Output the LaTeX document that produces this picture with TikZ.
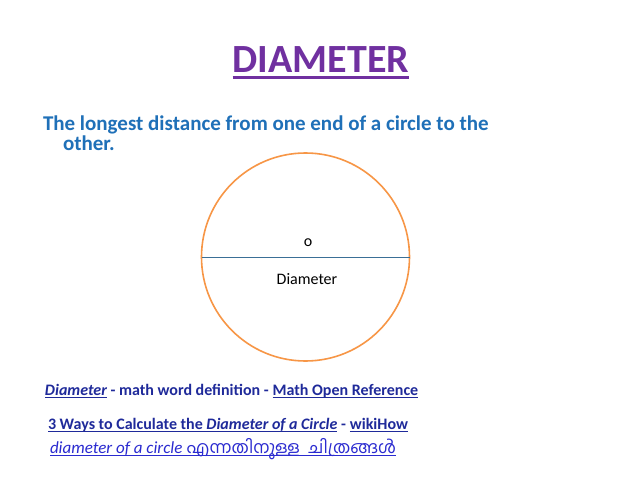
\documentclass[tikz,border=0pt]{standalone}
\usepackage{fontspec}
\setmainfont{Carlito}
\newfontfamily\mlfont[Script=Malayalam]{Hind Kochi}
\definecolor{titlepurple}{HTML}{7030A0}
\definecolor{bodyblue}{HTML}{1F70B8}
\definecolor{circorange}{HTML}{F79646}
\definecolor{diamblue}{HTML}{3A6F96}
\definecolor{linknavy}{HTML}{1F2A9A}
\definecolor{linkblue}{HTML}{2A2AD0}
\tikzset{
  txt/.style={inner sep=0pt, outer sep=0pt, anchor=base west},
  linkbold/.style={txt, text=linknavy, font=\fontsize{16}{19}\selectfont\bfseries},
  linkplain/.style={txt, text=linkblue, font=\fontsize{17}{20}\selectfont},
  ulnavy/.style={draw=linknavy, line width=0.9pt},
  ulblue/.style={draw=linkblue, line width=0.9pt},
}
\newcommand{\undl}[2]{\draw[#1] ([yshift=-2.4pt]#2.base west) -- ([yshift=-2.4pt]#2.base east);}
\begin{document}
\begin{tikzpicture}[x=1pt,y=-1pt]
\useasboundingbox[fill=white] (0,0) rectangle (638,479);
% title
\node[inner sep=0pt, anchor=base, text=titlepurple, font=\fontsize{40}{46}\selectfont\bfseries] (title) at (321,72) {DIAMETER};
\draw[titlepurple, line width=2.5pt] ([yshift=-5.5pt]title.base west) -- ([yshift=-5.5pt]title.base east);
% definition
\node[txt, text=bodyblue, font=\fontsize{21}{24}\selectfont\bfseries] (def1) at (43,130) {The longest distance from one end of a circle to the};
\node[txt, text=bodyblue, font=\fontsize{21}{24}\selectfont\bfseries] (def2) at (63,150) {other.};
% circle
\coordinate (c) at (305.5,257);
\draw[circorange, line width=1.6pt] (c) circle[radius=104];
\coordinate (dl) at (201.5,257);
\coordinate (dr) at (409.5,257);
\draw[diamblue, line width=0.8pt] (dl) -- (dr);
\node[inner sep=0pt, font=\fontsize{16}{18}\selectfont] (o) at (308,243) {o};
\node[inner sep=0pt, font=\fontsize{16}{18}\selectfont] (dlab) at (307,279) {Diameter};
% link line 1
\node[linkbold] (a1) at (45,395) {\itshape Diameter};
\node[linkbold] (a2) at (a1.base east) {\ - math word definition -\hspace*{0.25em}};
\node[linkbold] (a3) at (a2.base east) {Math Open Reference};
\undl{ulnavy}{a1}
\undl{ulnavy}{a3}
% link line 2
\node[linkbold] (b1) at (48,429) {3 Ways to Calculate the \textit{Diameter of a Circle}};
\node[linkbold] (b2) at (b1.base east) {\ -\hspace*{0.25em}};
\node[linkbold] (b3) at (b2.base east) {wikiHow};
\undl{ulnavy}{b1}
\undl{ulnavy}{b3}
% link line 3
\node[linkplain] (c1) at (50,453) {\itshape diameter of a circle\hspace*{0.25em}};
\node[linkplain] (c2) at (c1.base east) {\mlfont എന്നതിനുള്ള\ \ ചിത്രങ്ങൾ};
\draw[ulblue] ([yshift=-2.4pt]c1.base west) -- ([yshift=-2.4pt]c2.base east);
\end{tikzpicture}
\end{document}
